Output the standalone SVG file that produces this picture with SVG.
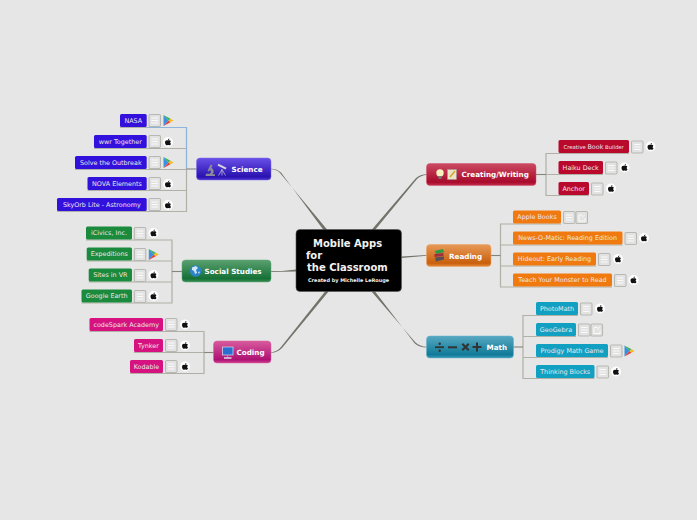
<svg xmlns="http://www.w3.org/2000/svg" width="697" height="520" viewBox="0 0 697 520">
<style>
text{font-family:"DejaVu Sans",Verdana,sans-serif}
.l{font-size:6.4px;fill:#ece6ea;text-anchor:middle}
.b{font-size:7.2px;font-weight:bold;fill:#fff}
.c{fill:none;stroke:#b0b0a6;stroke-width:1.2}
.d{fill:none;stroke:#85857a;stroke-width:1.1}
.m{fill:#73736a}
.t{font-size:10px;font-weight:bold;fill:#f2f2f2}
.sci{fill:#3311dd}.soc{fill:#1a8a3c}.cod{fill:#d5127f}.cre{fill:#b90a2e}.rea{fill:#f07a10}.mat{fill:#12a0c2}
</style>
<defs>
<linearGradient id="gs" x1="0" y1="0" x2="0" y2="1"><stop offset="0" stop-color="#6a50e8"/><stop offset=".85" stop-color="#2a12b0"/><stop offset="1" stop-color="#4a30d0"/></linearGradient>
<linearGradient id="gso" x1="0" y1="0" x2="0" y2="1"><stop offset="0" stop-color="#5aa070"/><stop offset=".85" stop-color="#157036"/><stop offset="1" stop-color="#3a9055"/></linearGradient>
<linearGradient id="gc" x1="0" y1="0" x2="0" y2="1"><stop offset="0" stop-color="#d85a9c"/><stop offset=".85" stop-color="#ad1273"/><stop offset="1" stop-color="#d03d90"/></linearGradient>
<linearGradient id="gcr" x1="0" y1="0" x2="0" y2="1"><stop offset="0" stop-color="#cc4a62"/><stop offset=".85" stop-color="#a80a2a"/><stop offset="1" stop-color="#c53050"/></linearGradient>
<linearGradient id="gr" x1="0" y1="0" x2="0" y2="1"><stop offset="0" stop-color="#e89a58"/><stop offset=".85" stop-color="#c85f0c"/><stop offset="1" stop-color="#e58a3c"/></linearGradient>
<linearGradient id="gm" x1="0" y1="0" x2="0" y2="1"><stop offset="0" stop-color="#58a8c2"/><stop offset=".85" stop-color="#0f7a98"/><stop offset="1" stop-color="#3a9ab8"/></linearGradient>
<symbol id="note" overflow="visible"><rect x=".5" y=".5" width="11.500" height="12" rx="1.200" fill="#e2e2e2" stroke="#b8b8b2" stroke-width="1.100"/><path d="M3 4h6.500M3 6.500h6.500M3 9h6.500" stroke="#fafafa" stroke-width="1" fill="none"/></symbol>
<symbol id="ext" overflow="visible"><rect x=".5" y=".5" width="11.500" height="12" rx="1.200" fill="#e2e2e2" stroke="#b8b8b2" stroke-width="1.100"/><path d="M7 4H3.500v6h6V7M6.500 6.500 9.500 3.500" stroke="#fafafa" stroke-width="1" fill="none"/></symbol>
<symbol id="apple" overflow="visible"><circle cx="0" cy="0" r="5" fill="#fff"/><path d="M0-1.400C.9-2 2.400-2 2.900-.8 1.800 0 2 1.300 3 1.700 2.600 2.800 1.900 3.400 1.100 3.300.6 3.200.3 3-.1 3c-.5 0-.7.3-1.200.3C-2.300 3.300-3 1.600-3 .3-3-1.600-1.200-2.200 0-1.400ZM0-1.800C0-2.700.6-3.400 1.400-3.500 1.400-2.600.8-1.900 0-1.800Z" fill="#111"/></symbol>
<symbol id="play" overflow="visible"><path d="M0 0 5 5.500 0 11Z" fill="#3a8fe0"/><path d="M0 0 7 3.800 5 5.500Z" fill="#36b35a"/><path d="M0 11 7 7.200 5 5.500Z" fill="#e8403a"/><path d="M7 3.800 10 5.500 7 7.200 5 5.500Z" fill="#f5b921"/></symbol>
</defs>
<rect width="697" height="520" fill="#e6e6e6"/>
<g id="connectors">
<path class="m" d="M323.500 230 281 172.500Q277 168.700 271 168.700V169.300Q276.500 169.300 280 173L327.500 230Z"/>
<path class="m" d="M296 269.500 282 271Q277 271.300 271 271V271.700Q277 272 282 271.800L296 271.500Z"/>
<path class="m" d="M325.500 291 281 347Q277 352 271 352.200V352.800Q277.500 352.600 282 348L329 291Z"/>
<path class="m" d="M371.500 230 416 178Q420 174.500 426.500 174.300V175Q421 175.300 417 179L375 230Z"/>
<path class="m" d="M401.500 256.500 426.500 255V255.700L401.500 258Z"/>
<path class="m" d="M371.500 291.500 415.500 342.500Q420 346.500 426.500 346.800V347.500Q419.500 347.500 414.800 343.500L375 291.500Z"/>
<path class="c" d="M120 127.500H186.500V211.500H57M94 148.500H186.500M75 169.500H186.500M87.500 190.500H186.500"/>
<path d="M147 127.500H186.500V169" fill="none" stroke="#8cb4dc" stroke-width="1.100"/>
<path class="d" d="M196.500 169H186.500"/>
<path class="c" d="M86 240H172V303H81.500M86.700 261H172M88.700 282H172"/>
<path class="d" d="M182 271.500H172"/>
<path class="c" d="M89.500 331.500H204V373.500H130M134 352.500H204"/>
<path class="d" d="M213.500 352.500H204"/>
<path class="c" d="M629 153.500H546V195.500H589M603 174.500H546"/>
<path class="d" d="M536 174.500H546"/>
<path class="c" d="M561 224H500.500V287H612M622.500 245H500.500M596 266H500.500"/>
<path class="d" d="M491 255.500H500.500"/>
<path class="c" d="M578 315.500H523V378.500H594.500M576 336.500H523M608 357.500H523"/>
<path class="d" d="M513.500 347H523"/>
</g>
<g id="central"><rect x="296" y="229.500" width="105.500" height="62" rx="4" fill="#000" stroke="#555" stroke-width=".6"/>
<text class="t" x="313" y="246.500">Mobile Apps</text>
<text class="t" x="306" y="258.500">for</text>
<text class="t" x="307" y="270.500">the Classroom</text>
<text x="308" y="282" font-size="4.950" font-weight="bold" fill="#f2f2f2">Created by Michelle LeRouge</text></g>

<g id="science"><rect x="196.500" y="158" width="74.500" height="22" rx="3.500" fill="url(#gs)" stroke="#7a68e8" stroke-width=".5"/>
<path d="M205.500 176h9.500v-1.700h-2.500c1.800-1.500 1.500-5-1-6.500l1-2.500-2-.8-3 6.500 1.500.6.800-1.600c1.500.8 1.500 3-.2 3.800h-3.600Z" fill="#8a8a9c"/>
<path d="M217.500 165.500l8 4 1-1.800-8-4Z" fill="#d4d4dc"/><path d="M222 169.500l-3.500 6M222 169.500v6M222 169.500l3.500 6" stroke="#c8c8d0" stroke-width=".7" fill="none"/>
<text class="b" x="231.500" y="172">Science</text></g>

<g id="social-studies"><rect x="182" y="260" width="89" height="22" rx="3.500" fill="url(#gso)" stroke="#5fa878" stroke-width=".5"/>
<circle cx="195.700" cy="271" r="5.800" fill="#2b83c8"/><path d="M192 267.500l4-1.500 2 2-2 2 1 3-2 1-1-3-2-1ZM198 272l2-.5-1 2.500Z" fill="#cfe8f5"/>
<text class="b" x="204.500" y="273.500">Social Studies</text></g>

<g id="coding"><rect x="213.500" y="341" width="57.500" height="22" rx="3.500" fill="url(#gc)" stroke="#d860a0" stroke-width=".5"/>
<rect x="222.500" y="347" width="10.500" height="8" fill="#2a6fd0" stroke="#dde" stroke-width=".7"/><path d="M224 358h7.500" stroke="#dde" stroke-width="1.500"/><path d="M227.700 355v2" stroke="#99a" stroke-width="1"/>
<text class="b" x="236.500" y="355">Coding</text></g>

<g id="creating-writing"><rect x="426.500" y="163.500" width="109.500" height="22" rx="3.500" fill="url(#gcr)" stroke="#cf5068" stroke-width=".5"/>
<circle cx="440" cy="173" r="3.700" fill="#f8f2c0"/><rect x="438.500" y="176" width="3" height="3" fill="#777"/>
<rect x="447.500" y="169.500" width="9" height="10" fill="#e8e4c8" stroke="#999" stroke-width=".5"/><path d="M450 177l5-6" stroke="#d8a020" stroke-width="1.300"/>
<text class="b" x="461.500" y="177">Creating/Writing</text></g>

<g id="reading"><rect x="426.500" y="244.500" width="64.500" height="22" rx="3.500" fill="url(#gr)" stroke="#eda060" stroke-width=".5"/>
<path d="M434.500 251l8-2 2 3-8 2Z" fill="#2f9a45"/><path d="M434.500 254l9-1v3l-9 1Z" fill="#a03040"/><path d="M435 257.500l9-1v3l-8 2Z" fill="#55505a"/>
<text class="b" x="449" y="259">Reading</text></g>

<g id="math"><rect x="426.500" y="336" width="87" height="22" rx="3.500" fill="url(#gm)" stroke="#60b0c8" stroke-width=".5"/>
<g fill="#333"><rect x="435" y="346.300" width="9" height="1.800"/><circle cx="439.700" cy="343.700" r="1.200"/><circle cx="439.700" cy="350.700" r="1.200"/><rect x="448" y="346.300" width="9" height="2"/><path d="M461 343.500l1.500-1.500 2.500 2.500 2.500-2.500 1.500 1.500-2.500 2.500 2.500 2.500-1.500 1.500-2.500-2.500-2.500 2.500-1.500-1.500 2.500-2.500Z" transform="translate(.5 1)"/><path d="M476 342.500h2v3.500h3.500v2h-3.500v3.500h-2v-3.500h-3.500v-2h3.500Z"/></g>
<text class="b" x="486.500" y="350">Math</text></g>

<g id="nasa"><rect class="sci" x="120" y="114" width="26.700" height="13" rx="1.500"/><text class="l" x="133.300" y="122.800">NASA</text><use href="#note" x="148.500" y="114"/><use href="#play" x="163.500" y="115"/></g>
<g id="wwr"><rect class="sci" x="94" y="135" width="52.700" height="13" rx="1.500"/><text class="l" x="120.300" y="143.800">wwr Together</text><use href="#note" x="148.500" y="135"/><use href="#apple" x="168" y="142"/></g>
<g id="outbreak"><rect class="sci" x="75" y="156" width="71.700" height="13" rx="1.500"/><text class="l" x="110.800" y="164.800">Solve the Outbreak</text><use href="#note" x="148.500" y="156"/><use href="#play" x="163.500" y="157"/></g>
<g id="nova"><rect class="sci" x="87.500" y="177" width="59.200" height="13" rx="1.500"/><text class="l" x="117" y="185.800">NOVA Elements</text><use href="#note" x="148.500" y="177"/><use href="#apple" x="168" y="184"/></g>
<g id="skyorb"><rect class="sci" x="57" y="198" width="89.700" height="13" rx="1.500"/><text class="l" x="101.800" y="206.800">SkyOrb Lite - Astronomy</text><use href="#note" x="148.500" y="198"/><use href="#apple" x="168" y="205"/></g>

<g id="icivics"><rect class="soc" x="86" y="226.500" width="46" height="13" rx="1.500"/><text class="l" x="109" y="235.300">iCivics, Inc.</text><use href="#note" x="133.800" y="227"/><use href="#apple" x="153.500" y="233"/></g>
<g id="expeditions"><rect class="soc" x="86.700" y="247.500" width="45.300" height="13" rx="1.500"/><text class="l" x="109.300" y="256.300">Expeditions</text><use href="#note" x="133.800" y="248"/><use href="#play" x="148.800" y="249"/></g>
<g id="sites"><rect class="soc" x="88.700" y="268.500" width="43.300" height="13" rx="1.500"/><text class="l" x="110.300" y="277.300">Sites in VR</text><use href="#note" x="133.800" y="269"/><use href="#apple" x="153.500" y="275"/></g>
<g id="earth"><rect class="soc" x="81.500" y="289.500" width="50.500" height="13" rx="1.500"/><text class="l" x="106.700" y="298.300">Google Earth</text><use href="#note" x="133.800" y="290"/><use href="#apple" x="153.500" y="296"/></g>

<g id="codespark"><rect class="cod" x="89.500" y="318" width="73.500" height="13" rx="1.500"/><text class="l" x="126.200" y="326.800">codeSpark Academy</text><use href="#note" x="165" y="318"/><use href="#apple" x="185" y="324.500"/></g>
<g id="tynker"><rect class="cod" x="134" y="339" width="29" height="13" rx="1.500"/><text class="l" x="148.500" y="347.800">Tynker</text><use href="#note" x="165" y="339"/><use href="#apple" x="185" y="345.500"/></g>
<g id="kodable"><rect class="cod" x="130" y="360" width="33" height="13" rx="1.500"/><text class="l" x="146.500" y="368.800">Kodable</text><use href="#note" x="165" y="360"/><use href="#apple" x="185" y="366.500"/></g>

<g id="book-builder"><rect class="cre" x="558.500" y="140" width="70.500" height="13" rx="1.500"/><text class="l" x="593.700" y="148.800" style="font-size:5.300px">Creative <tspan style="font-size:6.400px">Book</tspan> Builder</text><use href="#note" x="631" y="140.500"/><use href="#apple" x="650.500" y="146.500"/></g>
<g id="haiku"><rect class="cre" x="558.500" y="161" width="44.500" height="13" rx="1.500"/><text class="l" x="580.700" y="169.800">Haiku Deck</text><use href="#note" x="605" y="161.500"/><use href="#apple" x="624.500" y="167.500"/></g>
<g id="anchor"><rect class="cre" x="558.500" y="182" width="30.500" height="13" rx="1.500"/><text class="l" x="573.700" y="190.800">Anchor</text><use href="#note" x="591" y="182.500"/><use href="#apple" x="611" y="188.500"/></g>

<g id="apple-books"><rect class="rea" x="513" y="210.500" width="48" height="13" rx="1.500"/><text class="l" x="537" y="219.300">Apple Books</text><use href="#note" x="563" y="211"/><use href="#ext" x="575.500" y="211"/></g>
<g id="news"><rect class="rea" x="513" y="231.500" width="109.500" height="13" rx="1.500"/><text class="l" x="567.700" y="240.300">News-O-Matic: Reading Edition</text><use href="#note" x="624.500" y="232"/><use href="#apple" x="644" y="238"/></g>
<g id="hideout"><rect class="rea" x="513" y="252.500" width="83" height="13" rx="1.500"/><text class="l" x="554.500" y="261.300">Hideout: Early Reading</text><use href="#note" x="598" y="253"/><use href="#apple" x="618" y="259"/></g>
<g id="monster"><rect class="rea" x="513" y="273.500" width="99" height="13" rx="1.500"/><text class="l" x="562.500" y="282.300">Teach Your Monster to Read</text><use href="#note" x="614" y="274"/><use href="#apple" x="633.500" y="280"/></g>

<g id="photomath"><rect class="mat" x="536" y="302" width="42" height="13" rx="1.500"/><text class="l" x="557" y="310.800">PhotoMath</text><use href="#note" x="580" y="302.500"/><use href="#apple" x="600" y="308.500"/></g>
<g id="geogebra"><rect class="mat" x="536" y="323" width="40" height="13" rx="1.500"/><text class="l" x="556" y="331.800">GeoGebra</text><use href="#note" x="578" y="323.500"/><use href="#ext" x="590.500" y="323.500"/></g>
<g id="prodigy"><rect class="mat" x="536" y="344" width="72" height="13" rx="1.500"/><text class="l" x="572" y="352.800">Prodigy Math Game</text><use href="#note" x="610" y="344.500"/><use href="#play" x="624.500" y="345.500"/></g>
<g id="thinking"><rect class="mat" x="536" y="365" width="58.500" height="13" rx="1.500"/><text class="l" x="565.200" y="373.800">Thinking Blocks</text><use href="#note" x="596.500" y="365.500"/><use href="#apple" x="616" y="371.500"/></g>
</svg>
